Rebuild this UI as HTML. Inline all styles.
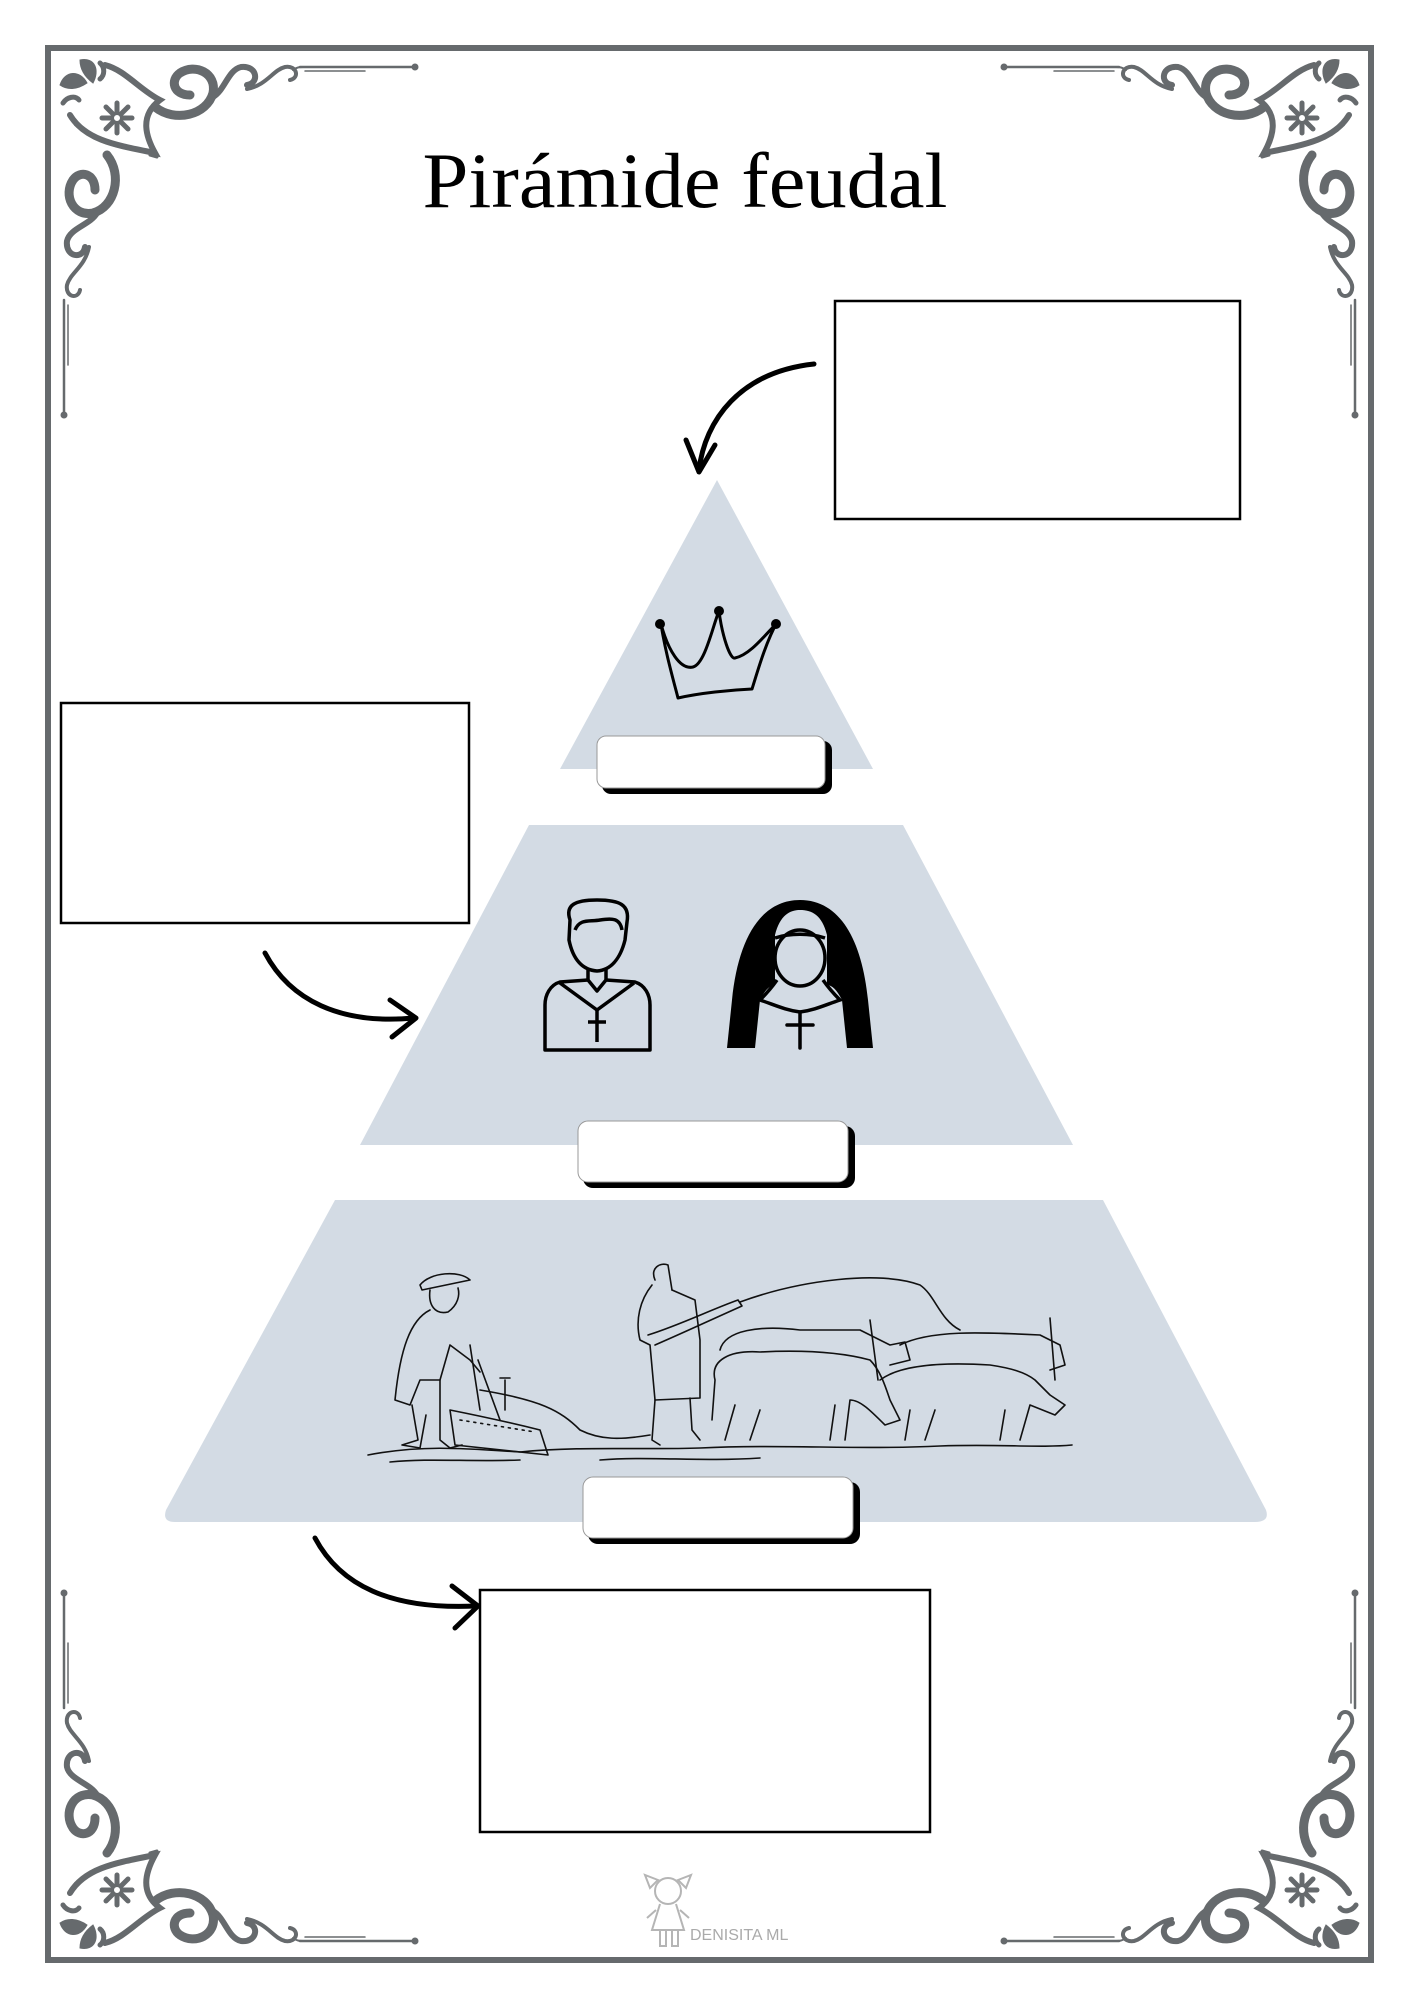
<!DOCTYPE html>
<html><head><meta charset="utf-8"><style>
html,body{margin:0;padding:0;background:#fff}
svg{display:block}
</style></head><body>
<svg width="1414" height="2000" viewBox="0 0 1414 2000" xmlns="http://www.w3.org/2000/svg">
<defs>
<g id="corner" fill="none" stroke="#666a6d" stroke-linecap="round">
  <line x1="255" y1="22" x2="370" y2="22" stroke-width="2.5"/>
  <line x1="260" y1="26" x2="320" y2="26" stroke-width="1.5"/>
  <line x1="19" y1="255" x2="19" y2="370" stroke-width="2.5"/>
  <line x1="23" y1="260" x2="23" y2="320" stroke-width="1.5"/>
  <circle cx="370" cy="22" r="3" fill="#666a6d"/>
  <circle cx="19" cy="370" r="3" fill="#666a6d"/>
  <!-- top swirls -->
  <path d="M145,50 C128,50 125,35 135,28 C150,18 172,28 168,48 C162,70 130,78 110,62" stroke-width="9"/>
  <path d="M168,52 C180,45 183,25 196,22 C212,20 215,38 202,40" stroke-width="6"/>
  <path d="M202,44 C222,40 228,25 240,22 C252,20 255,33 245,35" stroke-width="4"/>
  <path d="M248,25 C252,22 255,22 258,22" stroke-width="2"/>
  <!-- left swirls -->
  <path d="M50,145 C50,128 35,125 28,135 C18,150 28,172 48,168 C70,162 78,130 62,110" stroke-width="9"/>
  <path d="M52,168 C45,180 25,183 22,196 C20,212 38,215 40,202" stroke-width="6"/>
  <path d="M44,202 C40,222 25,228 22,240 C20,252 33,255 35,245" stroke-width="4"/>
  <!-- teardrop -->
  <path d="M25,70 C40,95 70,100 110,108 C100,90 95,70 115,55 C95,45 80,25 60,20" stroke-width="6"/>
  <path d="M30,80 C55,100 80,105 100,106" stroke-width="2"/>
  <path d="M105,110 L112,112" stroke-width="3"/>
  <!-- flower -->
  <g stroke-width="5">
   <line x1="72" y1="58" x2="72" y2="88"/><line x1="57" y1="73" x2="87" y2="73"/>
   <line x1="61" y1="62" x2="83" y2="84"/><line x1="83" y1="62" x2="61" y2="84"/>
  </g>
  <circle cx="72" cy="73" r="4" fill="#fff" stroke-width="2"/>
  <!-- fleur -->
  <path d="M15,40 C20,25 35,25 42,38 C32,45 22,45 15,40 Z" fill="#666a6d" stroke-width="1"/>
  <path d="M35,15 C50,12 55,25 48,38 C40,32 35,25 35,15 Z" fill="#666a6d" stroke-width="1"/>
  <path d="M18,58 C22,52 30,50 34,55" stroke-width="5"/>
  <path d="M55,18 C60,22 60,30 55,34" stroke-width="5"/>
</g>
</defs>

<!-- frame -->
<rect x="48" y="48" width="1323" height="1912" fill="#fff" stroke="#666a6d" stroke-width="6"/>
<use href="#corner" transform="translate(45,45)"/>
<use href="#corner" transform="translate(1374,45) scale(-1,1)"/>
<use href="#corner" transform="translate(45,1963) scale(1,-1)"/>
<use href="#corner" transform="translate(1374,1963) scale(-1,-1)"/>

<!-- title -->
<text x="685" y="207" text-anchor="middle" font-family="Liberation Serif, serif" font-size="78" fill="#000" textLength="525" lengthAdjust="spacingAndGlyphs">Pirámide feudal</text>

<!-- boxes -->
<rect x="835" y="301" width="405" height="218" fill="#fff" stroke="#000" stroke-width="2.5"/>
<rect x="61" y="703" width="408" height="220" fill="#fff" stroke="#000" stroke-width="2.5"/>
<rect x="480" y="1590" width="450" height="242" fill="#fff" stroke="#000" stroke-width="2.5"/>

<!-- pyramid -->
<polygon points="717,480 873,769 560,769" fill="#d3dbe4"/>
<polygon points="529,825 903,825 1073,1145 360,1145" fill="#d3dbe4"/>
<path d="M335,1200 L1103,1200 L1266,1510 Q1270,1522 1255,1522 L175,1522 Q162,1522 166,1510 Z" fill="#d3dbe4"/>

<!-- label boxes -->
<g>
 <rect x="602" y="741" width="230" height="53" rx="9" fill="#000"/>
 <rect x="597" y="736" width="228" height="52" rx="9" fill="#fff" stroke="#999" stroke-width="1"/>
 <rect x="583" y="1126" width="272" height="62" rx="10" fill="#000"/>
 <rect x="578" y="1121" width="270" height="61" rx="10" fill="#fff" stroke="#999" stroke-width="1"/>
 <rect x="588" y="1482" width="272" height="62" rx="10" fill="#000"/>
 <rect x="583" y="1477" width="270" height="61" rx="10" fill="#fff" stroke="#999" stroke-width="1"/>
</g>

<!-- arrows -->
<g fill="none" stroke="#000" stroke-width="5" stroke-linecap="round" stroke-linejoin="round">
 <path d="M814,364 C740,372 705,420 699,470"/>
 <path d="M686,440 L699,472 L715,445"/>
 <path d="M265,953 C290,1000 340,1025 414,1018"/>
 <path d="M390,1000 L416,1018 L392,1037"/>
 <path d="M315,1538 C340,1585 390,1610 476,1606"/>
 <path d="M452,1586 L478,1606 L455,1628"/>
</g>

<!-- crown -->
<g fill="none" stroke="#000" stroke-width="3" stroke-linejoin="round">
 <path d="M661,624 C668,650 680,670 693,667 C705,664 713,625 719,611 C722,635 730,660 735,658 C750,655 765,635 776,624 C765,645 758,670 752,689 C730,690 700,693 678,698 C672,675 665,650 661,624 Z"/>
 <circle cx="660" cy="624" r="3.5" fill="#000"/>
 <circle cx="719" cy="611" r="3.5" fill="#000"/>
 <circle cx="776" cy="624" r="3.5" fill="#000"/>
</g>

<!-- priest -->
<g fill="none" stroke="#000" stroke-width="3.5" stroke-linejoin="round">
 <path d="M570,920 C565,905 575,900 597,900 C620,900 630,905 627,922 L625,940 C620,960 610,970 597,971 C583,970 573,960 569,940 Z"/>
 <path d="M575,930 C580,918 590,922 600,920 C612,918 620,918 622,930"/>
 <path d="M588,968 L588,980 L597,991 L606,980 L606,968"/>
 <path d="M588,980 L560,982 C550,985 545,995 545,1005 L545,1050 L650,1050 L650,1005 C650,995 645,985 635,982 L606,980"/>
 <path d="M560,983 L597,1010 L634,983"/>
 <path d="M597,1010 L597,1042 M588,1022 L606,1022"/>
</g>

<!-- nun -->
<g>
 <path d="M800,900 C760,900 738,940 732,1000 L727,1048 L755,1048 L760,1000 C765,990 770,985 775,985 L775,935 C780,915 790,910 800,910 C812,910 822,915 827,935 L827,985 C832,985 837,990 842,1000 L847,1048 L873,1048 L868,1000 C862,940 840,900 800,900 Z" fill="#000"/>
 <g fill="none" stroke="#000" stroke-width="3.5">
  <path d="M775,938 C790,933 810,933 825,938"/>
  <ellipse cx="800" cy="958" rx="25" ry="28"/>
  <path d="M777,980 C770,990 765,995 760,1000 C775,1005 785,1010 800,1012 C815,1010 825,1005 840,1000 C835,995 830,990 823,980"/>
  <path d="M800,1012 L800,1048 M787,1025 L813,1025" stroke-linecap="round"/>
 </g>
</g>

<!-- peasants illustration (sketch) -->
<g fill="none" stroke="#111" stroke-width="1.6" stroke-linecap="round" stroke-linejoin="round">
 <path d="M368,1455 C420,1445 460,1448 520,1452 C580,1446 640,1450 700,1448 C780,1444 860,1450 940,1446 C1000,1444 1040,1448 1072,1445"/>
 <path d="M390,1462 C430,1458 470,1462 520,1460 M600,1460 C650,1456 700,1462 760,1458"/>
 <path d="M420,1285 C430,1272 460,1270 470,1280 L422,1290 Z"/>
 <path d="M430,1290 C428,1305 435,1315 448,1312 C458,1305 460,1295 458,1288"/>
 <path d="M430,1310 C410,1320 400,1350 395,1400 L410,1405 L420,1380 L440,1380 L450,1345 L470,1360 L480,1372"/>
 <path d="M412,1405 L418,1440 L402,1445 L420,1448 L426,1415 M440,1380 L440,1440 L450,1448 L462,1445"/>
 <path d="M470,1345 L480,1410 M478,1360 L500,1420"/>
 <path d="M450,1410 C500,1420 520,1425 540,1430 L548,1455 L455,1445 Z"/>
 <path d="M460,1420 L535,1432" stroke-dasharray="2 5"/>
 <path d="M480,1390 C540,1400 560,1410 580,1430 C600,1440 620,1440 650,1435"/>
 <path d="M505,1380 L505,1410 M500,1378 L510,1378"/>
 <path d="M655,1280 C650,1268 660,1262 668,1265 L672,1290"/>
 <path d="M652,1285 C640,1300 635,1320 640,1340 L650,1345 L655,1400 L700,1398 L700,1340 L695,1300 L672,1290"/>
 <path d="M655,1400 L652,1440 L660,1445 M690,1398 L692,1430 L700,1440"/>
 <path d="M648,1335 C680,1325 710,1310 738,1300 L742,1306 C715,1318 685,1332 655,1345"/>
 <path d="M740,1302 C800,1280 880,1270 920,1285 C935,1295 940,1320 960,1330"/>
 <path d="M720,1350 C725,1330 760,1325 800,1330 L860,1330 C870,1335 880,1340 890,1345 L905,1342 L910,1360 L890,1365"/>
 <path d="M900,1345 C930,1330 980,1332 1040,1335 L1060,1345 L1065,1365 L1050,1370"/>
 <path d="M715,1380 C710,1360 730,1350 760,1352 C800,1350 840,1352 870,1360 C880,1370 885,1385 890,1400 L900,1420 L885,1425 C870,1410 860,1400 850,1400 L845,1440 M835,1405 L830,1440 M760,1410 L750,1440 M735,1405 L725,1440 M715,1380 L712,1420"/>
 <path d="M880,1380 C900,1365 940,1362 990,1365 C1010,1368 1025,1372 1035,1380 L1050,1395 L1065,1405 L1055,1415 L1030,1405 L1020,1440 M1005,1410 L1000,1440 M935,1410 L925,1440 M910,1410 L905,1440"/>
 <path d="M870,1320 L878,1380 M1050,1318 L1055,1380"/>
</g>

<!-- watermark -->
<g fill="none" stroke="#b5b5b5" stroke-width="2">
 <circle cx="668" cy="1891" r="13"/>
 <path d="M658,1880 L645,1875 L650,1888 Z M678,1880 L691,1875 L686,1888 Z"/>
 <path d="M660,1904 L652,1930 L684,1930 L676,1904"/>
 <path d="M656,1910 L647,1918 M680,1910 L689,1918"/>
 <path d="M660,1930 L660,1946 L666,1946 L666,1930 M672,1930 L672,1946 L678,1946 L678,1930"/>
</g>
<text x="690" y="1940" font-family="Liberation Sans, sans-serif" font-size="16" fill="#aaa">DENISITA ML</text>
</svg>
</body></html>
